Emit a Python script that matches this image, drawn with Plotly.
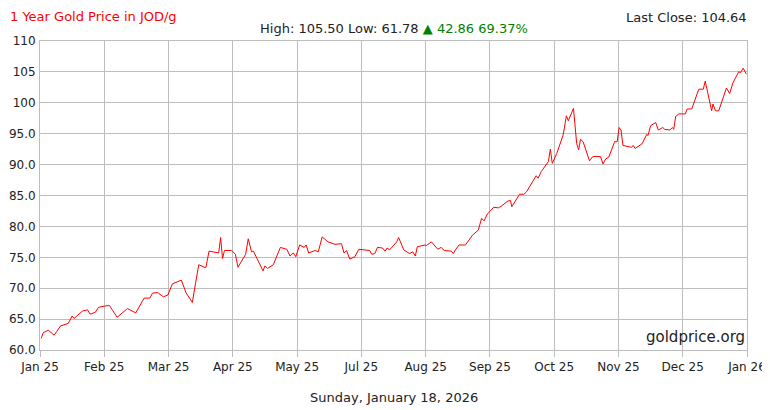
import plotly.graph_objects as go

# month position (0 = Jan 25 gridline) and price in JOD/g
pos = [0.02, 0.05, 0.13, 0.22, 0.26, 0.32, 0.44, 0.50, 0.53, 0.66, 0.74, 0.78, 0.86, 0.91,
       1.00, 1.08, 1.13, 1.20, 1.36, 1.49, 1.62, 1.71, 1.75, 1.83, 1.92, 1.99,
       2.06, 2.20, 2.27, 2.37, 2.42, 2.47, 2.58, 2.63, 2.78, 2.81, 2.84, 2.87, 2.98,
       3.04, 3.08, 3.20, 3.24, 3.29, 3.32, 3.42, 3.47, 3.50, 3.54, 3.63, 3.69, 3.74,
       3.84, 3.89, 3.94, 3.98, 4.04, 4.11, 4.14, 4.18, 4.28, 4.33, 4.39, 4.48, 4.59,
       4.69, 4.73, 4.77, 4.82, 4.90, 4.96, 5.13, 5.16, 5.21, 5.25, 5.33, 5.37, 5.40,
       5.44, 5.55, 5.58, 5.66, 5.75, 5.80, 5.84, 5.87, 5.99, 6.01, 6.09, 6.19, 6.24,
       6.29, 6.40, 6.43, 6.47, 6.52, 6.62, 6.73, 6.82, 6.87, 6.91, 6.96, 7.06, 7.13,
       7.18, 7.28, 7.32, 7.34, 7.39, 7.46, 7.53, 7.57, 7.72, 7.75, 7.80, 7.91, 7.94,
       7.97, 8.04, 8.14, 8.19, 8.22, 8.30, 8.35, 8.38, 8.41, 8.45, 8.55, 8.60, 8.72,
       8.76, 8.80, 8.85, 8.94, 8.98, 9.01, 9.04, 9.07, 9.20, 9.23, 9.26, 9.37, 9.44,
       9.46, 9.50, 9.58, 9.62, 9.69, 9.72, 9.80, 9.84, 9.86, 9.89, 9.94, 10.04, 10.07,
       10.14, 10.25, 10.32, 10.35, 10.45, 10.47, 10.51, 10.56, 10.68, 10.73, 10.78,
       10.87, 10.90, 10.94, 10.99]
price = [61.9, 62.8, 63.2, 62.4, 63.0, 63.9, 64.3, 65.5, 65.1, 66.3, 66.5, 65.8, 66.1, 66.9,
         67.1, 67.2, 66.4, 65.3, 66.7, 66.0, 68.4, 68.4, 69.2, 69.3, 68.6, 68.9,
         70.7, 71.3, 69.3, 67.7, 70.8, 73.8, 73.3, 76.0, 75.7, 78.2, 74.8, 76.1, 76.1,
         75.5, 73.4, 75.5, 78.0, 75.9, 76.0, 73.8, 72.8, 73.6, 73.2, 73.8, 75.5, 76.6,
         76.3, 75.2, 75.7, 75.1, 77.0, 76.6, 77.0, 75.7, 76.1, 75.9, 78.3, 77.5, 77.1,
         77.2, 75.7, 76.1, 74.7, 75.1, 76.3, 76.1, 75.5, 75.6, 76.6, 76.5, 76.0, 76.5,
         76.2, 77.5, 78.2, 76.2, 75.6, 75.9, 75.2, 76.7, 77.0, 76.9, 77.5, 76.3, 76.6,
         76.1, 76.0, 75.6, 76.3, 77.0, 77.0, 78.6, 79.4, 81.3, 80.9, 82.0, 83.1, 83.0,
         83.3, 84.1, 84.2, 83.2, 84.0, 85.2, 85.2, 85.6, 88.2, 87.8, 88.9, 90.5, 92.5,
         90.2, 91.8, 94.8, 97.9, 97.1, 99.1, 93.4, 92.4, 94.1, 93.7, 90.6, 91.3, 91.3,
         90.1, 90.9, 91.2, 93.7, 93.7, 96.0, 95.6, 93.1, 92.8, 93.1, 92.6, 93.4, 94.9,
         94.7, 96.3, 96.8, 95.6, 96.0, 95.7, 95.6, 96.0, 95.7, 97.8, 98.2, 98.2, 99.0,
         99.0, 102.2, 102.2, 103.5, 98.7, 99.8, 98.7, 98.7, 102.4, 101.5, 103.2,
         105.0, 104.9, 105.6, 104.64]

month_labels = ["Jan 25", "Feb 25", "Mar 25", "Apr 25", "May 25", "Jul 25", "Aug 25",
                "Sep 25", "Oct 25", "Nov 25", "Dec 25", "Jan 26"]
y_ticks = [60, 65, 70, 75, 80, 85, 90, 95, 100, 105, 110]
y_labels = ["60.0", "65.0", "70.0", "75.0", "80.0", "85.0", "90.0", "95.0", "100", "105", "110"]

FONT = "DejaVu Sans"
GRID = "#bdbdbd"

fig = go.Figure()
fig.add_trace(go.Scatter(x=pos, y=price, mode="lines",
                         line=dict(color="#ff0000", width=1), hoverinfo="skip"))

# the page has an 8px body margin, so the figure is 8px smaller than the window
fig.update_layout(
    width=762, height=402,
    margin=dict(l=32, r=23, t=33, b=60, autoexpand=False),
    paper_bgcolor="white", plot_bgcolor="white",
    showlegend=False,
    font=dict(family=FONT, size=13, color="#222"),
)
fig.update_xaxes(range=[0, 11], tickvals=list(range(12)), ticktext=month_labels,
                 automargin=False,
                 showgrid=True, gridcolor=GRID, gridwidth=1, zeroline=False,
                 showline=True, linecolor=GRID, mirror=True,
                 ticks="outside", ticklen=6, tickcolor=GRID,
                 tickfont=dict(size=12, color="#222"))
fig.update_yaxes(range=[60, 110], tickvals=y_ticks, ticktext=y_labels,
                 automargin=False, ticklabelstandoff=1,
                 showgrid=True, gridcolor=GRID, gridwidth=1, zeroline=False,
                 showline=True, linecolor=GRID, mirror=True,
                 tickfont=dict(size=12, color="#222"))

fig.add_annotation(text="1 Year Gold Price in JOD/g", xref="paper", yref="paper",
                   x=-0.045, y=1.078, xanchor="left", yanchor="middle", showarrow=False,
                   font=dict(size=13, color="#ff0000", family=FONT))
fig.add_annotation(text="Last Close: 104.64", xref="paper", yref="paper",
                   x=1.003, y=1.075, xanchor="right", yanchor="middle", showarrow=False,
                   font=dict(size=13, color="#222", family=FONT))
fig.add_annotation(text="High: 105.50 Low: 61.78 <span style='color:#008000'>▲ 42.86 69.37%</span>",
                   xref="paper", yref="paper", x=0.5, y=1.042, xanchor="center", yanchor="middle",
                   showarrow=False, font=dict(size=13, color="#222", family=FONT))
fig.add_annotation(text="goldprice.org", xref="paper", yref="paper",
                   x=1.0, y=0.005, xanchor="right", yanchor="bottom", showarrow=False,
                   font=dict(size=15, color="#222", family=FONT))
fig.add_annotation(text="Sunday, January 18, 2026", xref="paper", yref="paper",
                   x=0.5, y=-0.155, xanchor="center", yanchor="middle", showarrow=False,
                   font=dict(size=13, color="#222", family=FONT))

fig.write_html("out.html")
